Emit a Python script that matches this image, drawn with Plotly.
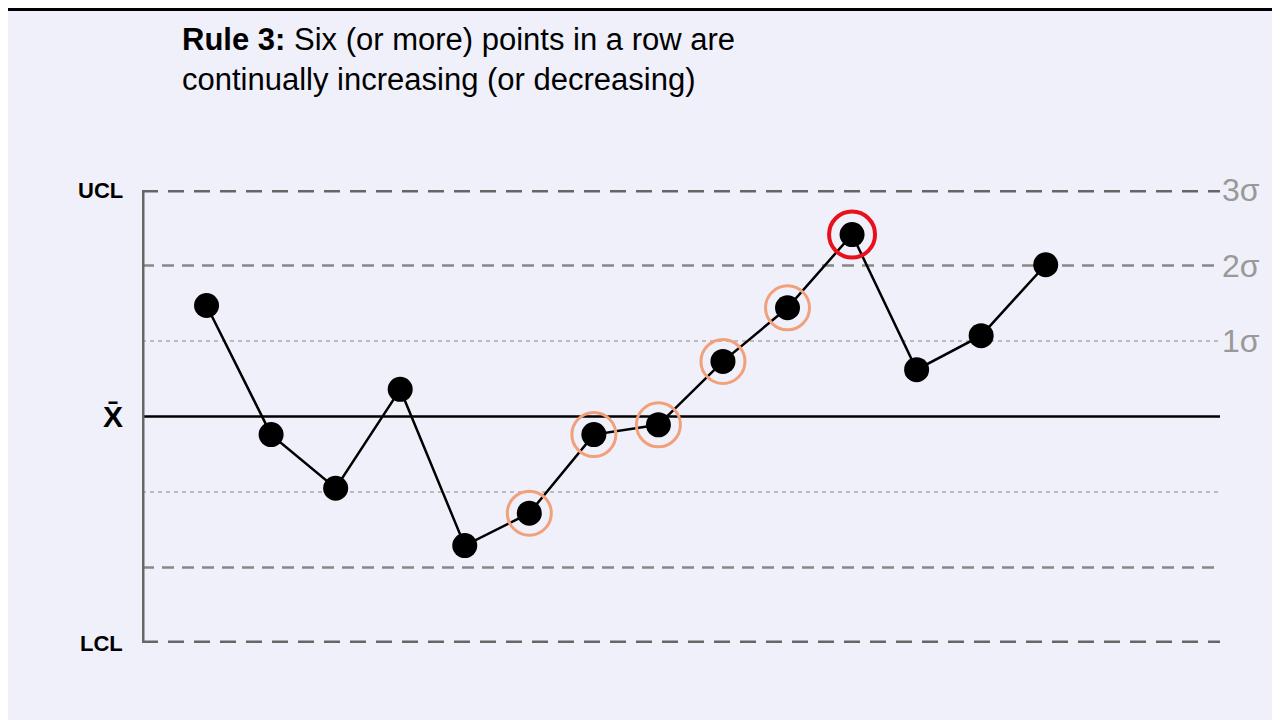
import plotly.graph_objects as go

x_vals = list(range(1, 15))
y_vals = [1.47, -0.24, -0.95, 0.36, -1.71, -1.28, -0.24, -0.11, 0.73, 1.44, 2.41, 0.62, 1.07, 2.01]
trend_idx = [5, 6, 7, 8, 9]
alarm_idx = [10]
sigma_labels = ["3σ", "2σ", "1σ"]
limit_labels = ["UCL", "X̄", "LCL"]

fig = go.Figure()
fig.add_trace(go.Scatter(x=x_vals, y=y_vals, mode="lines+markers",
                         line=dict(color="black", width=2.5),
                         marker=dict(color="black", size=25), cliponaxis=False))
fig.add_trace(go.Scatter(x=[x_vals[i] for i in trend_idx], y=[y_vals[i] for i in trend_idx],
                         mode="markers", cliponaxis=False,
                         marker=dict(size=44, color="rgba(0,0,0,0)", line=dict(color="#f2a07b", width=3))))
fig.add_trace(go.Scatter(x=[x_vals[i] for i in alarm_idx], y=[y_vals[i] for i in alarm_idx],
                         mode="markers", cliponaxis=False,
                         marker=dict(size=46, color="rgba(0,0,0,0)", line=dict(color="#e8101a", width=4))))

xmax = 16.7
shapes = [
    dict(type="line", x0=0, x1=xmax, y0=3, y1=3, line=dict(color="#666", width=5, dash="16px,10px")),
    dict(type="line", x0=0, x1=xmax, y0=-3, y1=-3, line=dict(color="#666", width=5, dash="16px,10px")),
    dict(type="line", x0=0, x1=xmax, y0=2, y1=2, line=dict(color="#888", width=2.5, dash="12px,8px")),
    dict(type="line", x0=0, x1=xmax, y0=-2, y1=-2, line=dict(color="#888", width=2.5, dash="12px,8px")),
    dict(type="line", x0=0, x1=xmax, y0=1, y1=1, line=dict(color="#aaa", width=1.5, dash="4px,4px")),
    dict(type="line", x0=0, x1=xmax, y0=-1, y1=-1, line=dict(color="#aaa", width=1.5, dash="4px,4px")),
    dict(type="line", x0=0, x1=xmax, y0=0, y1=0, line=dict(color="black", width=2.5)),
    dict(type="line", x0=0, x1=0, y0=-3, y1=3, line=dict(color="#666", width=5)),
]
for s in shapes:
    s["layer"] = "below"
shapes.append(dict(type="rect", xref="paper", yref="paper", x0=-0.2, x1=1.1, y0=1.395, y1=1.45,
                   fillcolor="black", line_width=0, layer="below"))

anns = [dict(xref="paper", yref="paper", x=0.035, y=1.375, xanchor="left", yanchor="top",
             align="left", showarrow=False,
             text="<b>Rule 3:</b> Six (or more) points in a row are<br>continually increasing (or decreasing)",
             font=dict(size=31, color="black", family="Liberation Sans"))]
for lab, yv, fs in zip(limit_labels, [3, 0, -3], [22, 30, 22]):
    anns.append(dict(xref="paper", x=-0.016, y=yv, xanchor="right", text=f"<b>{lab}</b>", showarrow=False,
                     font=dict(size=fs, color="black", family="Liberation Sans")))
for lab, yv in zip(sigma_labels, [3, 2, 1]):
    anns.append(dict(x=xmax, y=yv, xanchor="left", text=lab, showarrow=False,
                     font=dict(size=32, color="#999", family="Liberation Sans")))

fig.update_layout(
    width=1280, height=720, showlegend=False,
    paper_bgcolor="#f0f0fa", plot_bgcolor="#f0f0fa",
    margin=dict(l=134, r=68, t=182, b=85),
    xaxis=dict(range=[0, xmax], visible=False),
    yaxis=dict(range=[-3, 3], visible=False),
    shapes=shapes, annotations=anns,
)
fig.write_html("out.html")
